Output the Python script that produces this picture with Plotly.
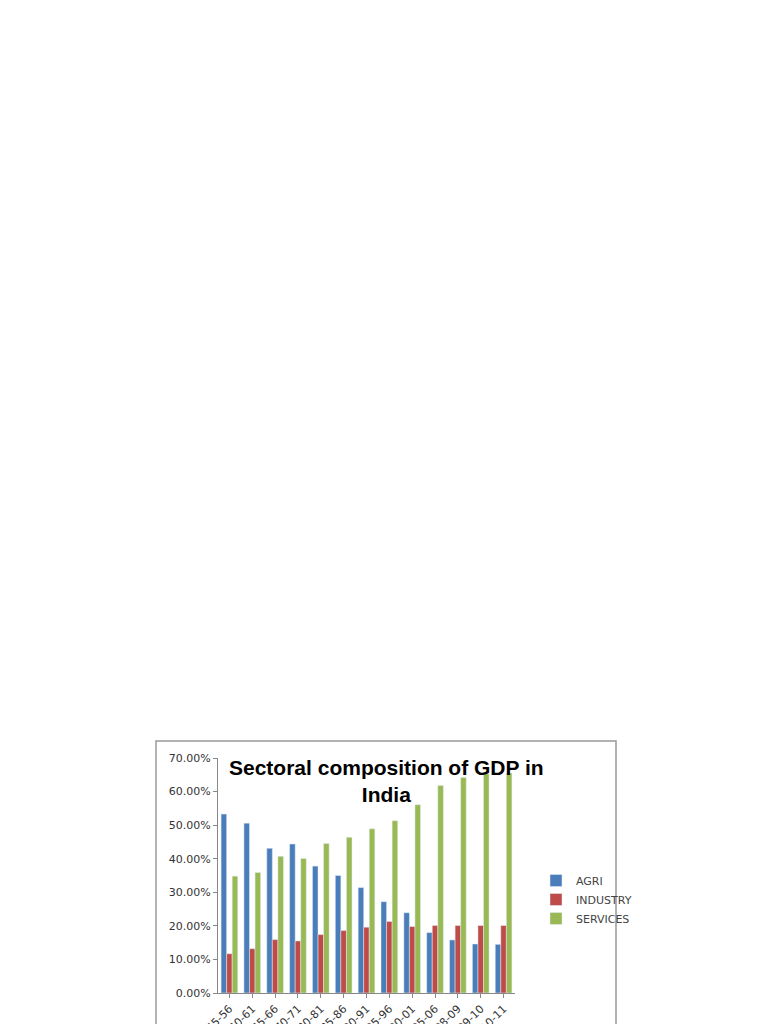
import plotly.graph_objects as go

years = ["1955-56","1960-61","1965-66","1970-71","1980-81","1985-86","1990-91",
         "1995-96","2000-01","2005-06","2008-09","2009-10","2010-11"]
agri = [53.3,50.6,43.1,44.4,37.8,35.0,31.4,27.2,23.9,18.0,15.8,14.6,14.5]
industry = [11.7,13.2,15.9,15.5,17.4,18.6,19.6,21.3,19.8,20.1,20.1,20.1,20.1]
services = [34.8,35.9,40.7,40.1,44.5,46.4,48.9,51.3,56.1,61.8,64.2,65.3,65.5]

L, R, T, B = 210, 261, 750, 39
pw, ph = 768 - L - R, 1024 - T - B

fig = go.Figure()
for name, vals, col in [("AGRI", agri, "#4a7ebb"), ("INDUSTRY", industry, "#be4b48"),
                        ("SERVICES", services, "#98b954")]:
    fig.add_bar(x=years, y=[v/100 for v in vals], name=name, marker_color=col)

fig.update_layout(
    width=768, height=1024, margin=dict(l=L, r=R, t=T, b=B, autoexpand=False),
    paper_bgcolor="white", plot_bgcolor="white", barmode="group",
    bargap=0.27, bargroupgap=0,
    font=dict(family="DejaVu Sans", size=11, color="#333"),
    legend=dict(x=(528-L)/pw, y=(985-858)/ph, xanchor="left", yanchor="top",
                bgcolor="rgba(0,0,0,0)", font=dict(size=11, color="#444"),
                tracegroupgap=8, itemwidth=30),
    showlegend=True,
    xaxis=dict(type="category", tickangle=-45, showline=True, linecolor="#888",
               ticks="outside", ticklen=4, tickcolor="#888",
               tickfont=dict(size=11), automargin=False),
    yaxis=dict(range=[0, 0.7], dtick=0.1, tickformat=".2%", showgrid=False,
               showline=True, linecolor="#888", ticks="outside", ticklen=4,
               tickcolor="#888", tickfont=dict(size=11), automargin=False),
    shapes=[dict(type="rect", xref="paper", yref="paper",
                 x0=(148-L)/pw, x1=(608-L)/pw, y0=-0.3, y1=(985-733)/ph,
                 line=dict(color="#999", width=1.5), layer="below")],
    annotations=[dict(text="<b>Sectoral composition of GDP in<br>India</b>",
                      xref="paper", yref="paper", x=(378-L)/pw, y=(985-746)/ph,
                      xanchor="center", yanchor="top", showarrow=False,
                      font=dict(family="Liberation Sans", size=21, color="black"))],
)
fig.write_html("out.html")
